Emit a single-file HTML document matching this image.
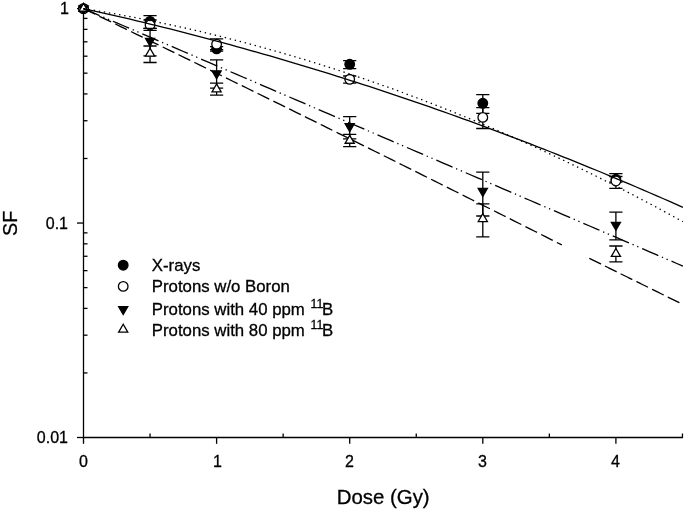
<!DOCTYPE html><html><head><meta charset="utf-8"><title>Survival fraction vs dose</title>
<style>html,body{margin:0;padding:0;background:#fff}svg{display:block}text{font-family:"Liberation Sans",Arial,sans-serif;fill:#000;stroke:#000;stroke-width:0.3px}</style></head><body>
<svg width="685" height="510" viewBox="0 0 685 510">
<rect width="685" height="510" fill="#fff"/>
<g stroke="#000" stroke-width="1.3" fill="none">
<path d="M83.5 8.0V437.5H682.9"/>
<path d="M77.0 8.60H83.5"/>
<path d="M77.0 223.05H83.5"/>
<path d="M77.0 437.50H83.5"/>
<path d="M83.5 158.49h4"/>
<path d="M83.5 120.73h4"/>
<path d="M83.5 93.94h4"/>
<path d="M83.5 73.16h4"/>
<path d="M83.5 56.18h4"/>
<path d="M83.5 41.82h4"/>
<path d="M83.5 29.38h4"/>
<path d="M83.5 18.41h4"/>
<path d="M83.5 372.94h4"/>
<path d="M83.5 335.18h4"/>
<path d="M83.5 308.39h4"/>
<path d="M83.5 287.61h4"/>
<path d="M83.5 270.63h4"/>
<path d="M83.5 256.27h4"/>
<path d="M83.5 243.83h4"/>
<path d="M83.5 232.86h4"/>
<path d="M83.50 437.5v6.3"/>
<path d="M216.60 437.5v6.3"/>
<path d="M349.70 437.5v6.3"/>
<path d="M482.80 437.5v6.3"/>
<path d="M615.90 437.5v6.3"/>
<path d="M150.05 437.5v-4"/>
<path d="M283.15 437.5v-4"/>
<path d="M416.25 437.5v-4"/>
<path d="M549.35 437.5v-4"/>
<path d="M682.45 437.5v-4"/>
</g>
<path d="M150.05 15.6V28.3M143.45 15.6h13.2M143.45 28.3h13.2" stroke="#000" stroke-width="1.3" fill="none"/>
<path d="M216.60 46.6V51.2M210.00 46.6h13.2M210.00 51.2h13.2" stroke="#000" stroke-width="1.3" fill="none"/>
<path d="M349.70 60.6V68.7M343.10 60.6h13.2M343.10 68.7h13.2" stroke="#000" stroke-width="1.3" fill="none"/>
<path d="M482.80 94.7V113.3M476.20 94.7h13.2M476.20 113.3h13.2" stroke="#000" stroke-width="1.3" fill="none"/>
<path d="M615.90 176.5V182.2M609.30 176.5h13.2M609.30 182.2h13.2" stroke="#000" stroke-width="1.3" fill="none"/>
<circle cx="83.50" cy="8.6" r="4.8" fill="#000" stroke="#000" stroke-width="1.3"/>
<circle cx="150.05" cy="21.4" r="4.8" fill="#000" stroke="#000" stroke-width="1.3"/>
<circle cx="216.60" cy="48.85" r="4.8" fill="#000" stroke="#000" stroke-width="1.3"/>
<circle cx="349.70" cy="64.3" r="4.8" fill="#000" stroke="#000" stroke-width="1.3"/>
<circle cx="482.80" cy="103.3" r="4.8" fill="#000" stroke="#000" stroke-width="1.3"/>
<circle cx="615.90" cy="179.3" r="4.8" fill="#000" stroke="#000" stroke-width="1.3"/>
<path d="M150.05 20.0V30.3M143.45 20.0h13.2M143.45 30.3h13.2" stroke="#000" stroke-width="1.3" fill="none"/>
<path d="M216.60 38.9V49.7M210.00 38.9h13.2M210.00 49.7h13.2" stroke="#000" stroke-width="1.3" fill="none"/>
<path d="M349.70 76V83.1M343.10 76h13.2M343.10 83.1h13.2" stroke="#000" stroke-width="1.3" fill="none"/>
<path d="M482.80 107.6V128.5M476.20 107.6h13.2M476.20 128.5h13.2" stroke="#000" stroke-width="1.3" fill="none"/>
<path d="M615.90 173.6V188.4M609.30 173.6h13.2M609.30 188.4h13.2" stroke="#000" stroke-width="1.3" fill="none"/>
<circle cx="83.50" cy="8.6" r="4.8" fill="#fff" stroke="#000" stroke-width="1.3"/>
<circle cx="150.05" cy="25.0" r="4.8" fill="#fff" stroke="#000" stroke-width="1.3"/>
<circle cx="216.60" cy="44.2" r="4.8" fill="#fff" stroke="#000" stroke-width="1.3"/>
<circle cx="349.70" cy="79.3" r="4.8" fill="#fff" stroke="#000" stroke-width="1.3"/>
<circle cx="482.80" cy="117.4" r="4.8" fill="#fff" stroke="#000" stroke-width="1.3"/>
<circle cx="615.90" cy="181" r="4.8" fill="#fff" stroke="#000" stroke-width="1.3"/>
<path d="M150.05 28.35V55.9M143.45 28.35h13.2M143.45 55.9h13.2" stroke="#000" stroke-width="1.3" fill="none"/>
<path d="M216.60 59.85V88.1M210.00 59.85h13.2M210.00 88.1h13.2" stroke="#000" stroke-width="1.3" fill="none"/>
<path d="M349.70 116.6V138.8M343.10 116.6h13.2M343.10 138.8h13.2" stroke="#000" stroke-width="1.3" fill="none"/>
<path d="M482.80 172.1V216M476.20 172.1h13.2M476.20 216h13.2" stroke="#000" stroke-width="1.3" fill="none"/>
<path d="M615.90 212.1V239.9M609.30 212.1h13.2M609.30 239.9h13.2" stroke="#000" stroke-width="1.3" fill="none"/>
<path d="M78.93 5.97h9.14L83.50 13.87Z" fill="#000" stroke="#000" stroke-width="1.3" stroke-linejoin="miter"/>
<path d="M145.48 38.37h9.14L150.05 46.27Z" fill="#000" stroke="#000" stroke-width="1.3" stroke-linejoin="miter"/>
<path d="M212.03 70.87h9.14L216.60 78.77Z" fill="#000" stroke="#000" stroke-width="1.3" stroke-linejoin="miter"/>
<path d="M345.13 123.77h9.14L349.70 131.67Z" fill="#000" stroke="#000" stroke-width="1.3" stroke-linejoin="miter"/>
<path d="M478.23 188.47h9.14L482.80 196.37Z" fill="#000" stroke="#000" stroke-width="1.3" stroke-linejoin="miter"/>
<path d="M611.33 222.37h9.14L615.90 230.27Z" fill="#000" stroke="#000" stroke-width="1.3" stroke-linejoin="miter"/>
<path d="M150.05 46V62.5M143.45 46h13.2M143.45 62.5h13.2" stroke="#000" stroke-width="1.3" fill="none"/>
<path d="M216.60 83.2V95.2M210.00 83.2h13.2M210.00 95.2h13.2" stroke="#000" stroke-width="1.3" fill="none"/>
<path d="M349.70 134.4V146.7M343.10 134.4h13.2M343.10 146.7h13.2" stroke="#000" stroke-width="1.3" fill="none"/>
<path d="M482.80 203.9V236.8M476.20 203.9h13.2M476.20 236.8h13.2" stroke="#000" stroke-width="1.3" fill="none"/>
<path d="M615.90 246V261.9M609.30 246h13.2M609.30 261.9h13.2" stroke="#000" stroke-width="1.3" fill="none"/>
<path d="M78.93 11.23h9.14L83.50 3.33Z" fill="#fff" stroke="#000" stroke-width="1.3" stroke-linejoin="miter"/>
<path d="M145.48 56.13h9.14L150.05 48.23Z" fill="#fff" stroke="#000" stroke-width="1.3" stroke-linejoin="miter"/>
<path d="M212.03 91.93h9.14L216.60 84.03Z" fill="#fff" stroke="#000" stroke-width="1.3" stroke-linejoin="miter"/>
<path d="M345.13 143.23h9.14L349.70 135.33Z" fill="#fff" stroke="#000" stroke-width="1.3" stroke-linejoin="miter"/>
<path d="M478.23 221.53h9.14L482.80 213.63Z" fill="#fff" stroke="#000" stroke-width="1.3" stroke-linejoin="miter"/>
<path d="M611.33 256.43h9.14L615.90 248.53Z" fill="#fff" stroke="#000" stroke-width="1.3" stroke-linejoin="miter"/>
<path d="M83.50 8.60 L90.16 10.07 L96.82 11.55 L103.48 13.05 L110.14 14.57 L116.80 16.10 L123.46 17.65 L130.12 19.22 L136.78 20.80 L143.44 22.40 L150.10 24.02 L156.76 25.65 L163.42 27.30 L170.08 28.97 L176.74 30.65 L183.40 32.35 L190.06 34.07 L196.72 35.80 L203.38 37.55 L210.04 39.32 L216.70 41.10 L223.36 42.90 L230.02 44.72 L236.68 46.55 L243.34 48.40 L250.00 50.27 L256.66 52.15 L263.32 54.05 L269.98 55.97 L276.64 57.90 L283.30 59.85 L289.96 61.82 L296.62 63.80 L303.28 65.80 L309.94 67.82 L316.60 69.85 L323.26 71.90 L329.92 73.97 L336.58 76.05 L343.24 78.15 L349.90 80.27 L356.56 82.40 L363.22 84.55 L369.88 86.71 L376.54 88.90 L383.20 91.10 L389.86 93.31 L396.52 95.55 L403.18 97.80 L409.84 100.06 L416.50 102.34 L423.16 104.64 L429.82 106.96 L436.48 109.29 L443.14 111.64 L449.80 114.01 L456.46 116.39 L463.12 118.79 L469.78 121.21 L476.44 123.64 L483.10 126.09 L489.76 128.55 L496.42 131.04 L503.08 133.54 L509.74 136.05 L516.40 138.58 L523.06 141.13 L529.72 143.70 L536.38 146.28 L543.04 148.88 L549.70 151.50 L556.36 154.13 L563.02 156.78 L569.68 159.44 L576.34 162.13 L583.00 164.83 L589.66 167.54 L596.32 170.27 L602.98 173.02 L609.64 175.79 L616.30 178.57 L622.96 181.37 L629.62 184.18 L636.28 187.02 L642.94 189.87 L649.60 192.73 L656.26 195.61 L662.92 198.51 L669.58 201.43 L676.24 204.36 L682.90 207.31" fill="none" stroke="#000" stroke-width="1.3"/>
<path d="M83.50 8.60 L90.16 9.67 L96.82 10.76 L103.48 11.89 L110.14 13.04 L116.80 14.22 L123.46 15.44 L130.12 16.68 L136.78 17.95 L143.44 19.25 L150.10 20.58 L156.76 21.94 L163.42 23.33 L170.08 24.74 L176.74 26.19 L183.40 27.67 L190.06 29.17 L196.72 30.71 L203.38 32.27 L210.04 33.86 L216.70 35.48 L223.36 37.14 L230.02 38.82 L236.68 40.53 L243.34 42.27 L250.00 44.03 L256.66 45.83 L263.32 47.66 L269.98 49.51 L276.64 51.40 L283.30 53.31 L289.96 55.26 L296.62 57.23 L303.28 59.23 L309.94 61.26 L316.60 63.32 L323.26 65.41 L329.92 67.53 L336.58 69.68 L343.24 71.86 L349.90 74.07 L356.56 76.30 L363.22 78.57 L369.88 80.86 L376.54 83.19 L383.20 85.54 L389.86 87.92 L396.52 90.33 L403.18 92.77 L409.84 95.24 L416.50 97.74 L423.16 100.27 L429.82 102.83 L436.48 105.42 L443.14 108.03 L449.80 110.68 L456.46 113.35 L463.12 116.06 L469.78 118.79 L476.44 121.55 L483.10 124.34 L489.76 127.16 L496.42 130.01 L503.08 132.89 L509.74 135.80 L516.40 138.74 L523.06 141.71 L529.72 144.70 L536.38 147.73 L543.04 150.78 L549.70 153.87 L556.36 156.98 L563.02 160.12 L569.68 163.30 L576.34 166.50 L583.00 169.73 L589.66 172.99 L596.32 176.28 L602.98 179.59 L609.64 182.94 L616.30 186.32 L622.96 189.72 L629.62 193.16 L636.28 196.62 L642.94 200.12 L649.60 203.64 L656.26 207.19 L662.92 210.77 L669.58 214.38 L676.24 218.02 L682.90 221.69" fill="none" stroke="#000" stroke-width="1.3" stroke-dasharray="1.4 3.75"/>
<path d="M83.50 8.60 L90.16 11.46 L96.82 14.32 L103.48 17.18 L110.14 20.04 L116.80 22.90 L123.46 25.76 L130.12 28.61 L136.78 31.47 L143.44 34.33 L150.10 37.19 L156.76 40.05 L163.42 42.91 L170.08 45.77 L176.74 48.63 L183.40 51.49 L190.06 54.35 L196.72 57.21 L203.38 60.07 L210.04 62.93 L216.70 65.79 L223.36 68.65 L230.02 71.51 L236.68 74.37 L243.34 77.23 L250.00 80.09 L256.66 82.95 L263.32 85.81 L269.98 88.67 L276.64 91.53 L283.30 94.39 L289.96 97.25 L296.62 100.11 L303.28 102.97 L309.94 105.83 L316.60 108.70 L323.26 111.56 L329.92 114.42 L336.58 117.28 L343.24 120.14 L349.90 123.00 L356.56 125.86 L363.22 128.72 L369.88 131.58 L376.54 134.44 L383.20 137.30 L389.86 140.17 L396.52 143.03 L403.18 145.89 L409.84 148.75 L416.50 151.61 L423.16 154.47 L429.82 157.33 L436.48 160.19 L443.14 163.06 L449.80 165.92 L456.46 168.78 L463.12 171.64 L469.78 174.50 L476.44 177.36 L483.10 180.23 L489.76 183.09 L496.42 185.95 L503.08 188.81 L509.74 191.67 L516.40 194.54 L523.06 197.40 L529.72 200.26 L536.38 203.12 L543.04 205.99 L549.70 208.85 L556.36 211.71 L563.02 214.57 L569.68 217.43 L576.34 220.30 L583.00 223.16 L589.66 226.02 L596.32 228.88 L602.98 231.75 L609.64 234.61 L616.30 237.47 L622.96 240.34 L629.62 243.20 L636.28 246.06 L642.94 248.92 L649.60 251.79 L656.26 254.65 L662.92 257.51 L669.58 260.38 L676.24 263.24 L682.90 266.10" fill="none" stroke="#000" stroke-width="1.3" stroke-dasharray="17.6 3.9 1.3 3.8 1.3 4.1"/>
<path d="M83.50 8.60 L88.81 11.17 L94.13 13.73 L99.44 16.30 L104.76 18.87 L110.07 21.45 L115.39 24.02 L120.70 26.59 L126.02 29.17 L131.33 31.75 L136.64 34.33 L141.96 36.91 L147.27 39.49 L152.59 42.07 L157.90 44.65 L163.22 47.24 L168.53 49.83 L173.85 52.41 L179.16 55.00 L184.47 57.59 L189.79 60.19 L195.10 62.78 L200.42 65.37 L205.73 67.97 L211.05 70.57 L216.36 73.17 L221.68 75.77 L226.99 78.37 L232.30 80.97 L237.62 83.57 L242.93 86.18 L248.25 88.78 L253.56 91.39 L258.88 94.00 L264.19 96.61 L269.51 99.22 L274.82 101.84 L280.13 104.45 L285.45 107.07 L290.76 109.69 L296.08 112.30 L301.39 114.92 L306.71 117.55 L312.02 120.17 L317.34 122.79 L322.65 125.42 L327.96 128.05 L333.28 130.67 L338.59 133.30 L343.91 135.93 L349.22 138.57 L354.54 141.20 L359.85 143.83 L365.17 146.47 L370.48 149.11 L375.79 151.75 L381.11 154.39 L386.42 157.03 L391.74 159.67 L397.05 162.31 L402.37 164.96 L407.68 167.61 L413.00 170.25 L418.31 172.90 L423.62 175.55 L428.94 178.21 L434.25 180.86 L439.57 183.51 L444.88 186.17 L450.20 188.83 L455.51 191.49 L460.83 194.15 L466.14 196.81 L471.45 199.47 L476.77 202.14 L482.08 204.80 L487.40 207.47 L492.71 210.14 L498.03 212.81 L503.34 215.48 L508.66 218.15 L513.97 220.82 L519.28 223.50 L524.60 226.17 L529.91 228.85 L535.23 231.53 L540.54 234.21 L545.86 236.89 L551.17 239.57 L556.49 242.26 L561.80 244.94" fill="none" stroke="#000" stroke-width="1.3" stroke-dasharray="13 4.6"/>
<path d="M589.30 258.29 L590.34 258.81 L591.38 259.32 L592.42 259.83 L593.46 260.35 L594.50 260.86 L595.54 261.37 L596.58 261.89 L597.62 262.40 L598.66 262.91 L599.70 263.43 L600.74 263.94 L601.78 264.45 L602.82 264.97 L603.86 265.48 L604.90 266.00 L605.94 266.51 L606.98 267.02 L608.02 267.54 L609.06 268.05 L610.10 268.56 L611.14 269.08 L612.18 269.59 L613.22 270.10 L614.26 270.62 L615.30 271.13 L616.34 271.64 L617.38 272.16 L618.42 272.67 L619.46 273.18 L620.50 273.70 L621.54 274.21 L622.58 274.72 L623.62 275.24 L624.66 275.75 L625.70 276.26 L626.74 276.78 L627.78 277.29 L628.82 277.80 L629.86 278.32 L630.90 278.83 L631.94 279.34 L632.98 279.86 L634.02 280.37 L635.06 280.88 L636.10 281.40 L637.14 281.91 L638.18 282.42 L639.22 282.94 L640.26 283.45 L641.30 283.96 L642.34 284.48 L643.38 284.99 L644.42 285.50 L645.46 286.02 L646.50 286.53 L647.54 287.04 L648.58 287.56 L649.62 288.07 L650.66 288.59 L651.70 289.10 L652.74 289.61 L653.78 290.13 L654.82 290.64 L655.86 291.15 L656.90 291.67 L657.94 292.18 L658.98 292.69 L660.02 293.21 L661.06 293.72 L662.10 294.23 L663.14 294.75 L664.18 295.26 L665.22 295.77 L666.26 296.29 L667.30 296.80 L668.34 297.31 L669.38 297.83 L670.42 298.34 L671.46 298.85 L672.50 299.37 L673.54 299.88 L674.58 300.39 L675.62 300.91 L676.66 301.42 L677.70 301.93 L678.74 302.45 L679.78 302.96 L680.82 303.47 L681.86 303.99 L682.90 304.50" fill="none" stroke="#000" stroke-width="1.3" stroke-dasharray="13 4.5"/>
<circle cx="123.20" cy="265.2" r="4.8" fill="#000" stroke="#000" stroke-width="1.3"/>
<circle cx="123.20" cy="286.4" r="4.8" fill="#fff" stroke="#000" stroke-width="1.3"/>
<path d="M118.63 306.57h9.14L123.20 314.47Z" fill="#000" stroke="#000" stroke-width="1.3" stroke-linejoin="miter"/>
<path d="M118.63 332.13h9.14L123.20 324.23Z" fill="#fff" stroke="#000" stroke-width="1.3" stroke-linejoin="miter"/>
<g font-size="16.8px">
<text x="151.8" y="271">X-rays</text>
<text x="151.8" y="291.7">Protons w/o Boron</text>
<text x="151.8" y="315.1">Protons with 40 ppm <tspan font-size="12.3px" dx="1.1" dy="-6.9">11</tspan><tspan dx="-1.2" dy="6.9">B</tspan></text>
<text x="151.8" y="335.5">Protons with 80 ppm <tspan font-size="12.3px" dx="1.1" dy="-6.9">11</tspan><tspan dx="-1.2" dy="6.9">B</tspan></text>
</g>
<g font-size="16px" text-anchor="end">
<text x="68.8" y="14.3">1</text>
<text x="68" y="228.7">0.1</text>
<text x="68" y="443.2">0.01</text>
</g>
<g font-size="16px" text-anchor="middle">
<text x="83.5" y="466.6">0</text>
<text x="217.4" y="466.6">1</text>
<text x="349.5" y="466.6">2</text>
<text x="482.4" y="466.6">3</text>
<text x="615.4" y="466.6">4</text>
</g>
<text font-size="20.4px" text-anchor="middle" x="383.2" y="503.8">Dose (Gy)</text>
<text font-size="19.8px" text-anchor="middle" transform="translate(16.75 223.3) rotate(-90)">SF</text>
</svg></body></html>
